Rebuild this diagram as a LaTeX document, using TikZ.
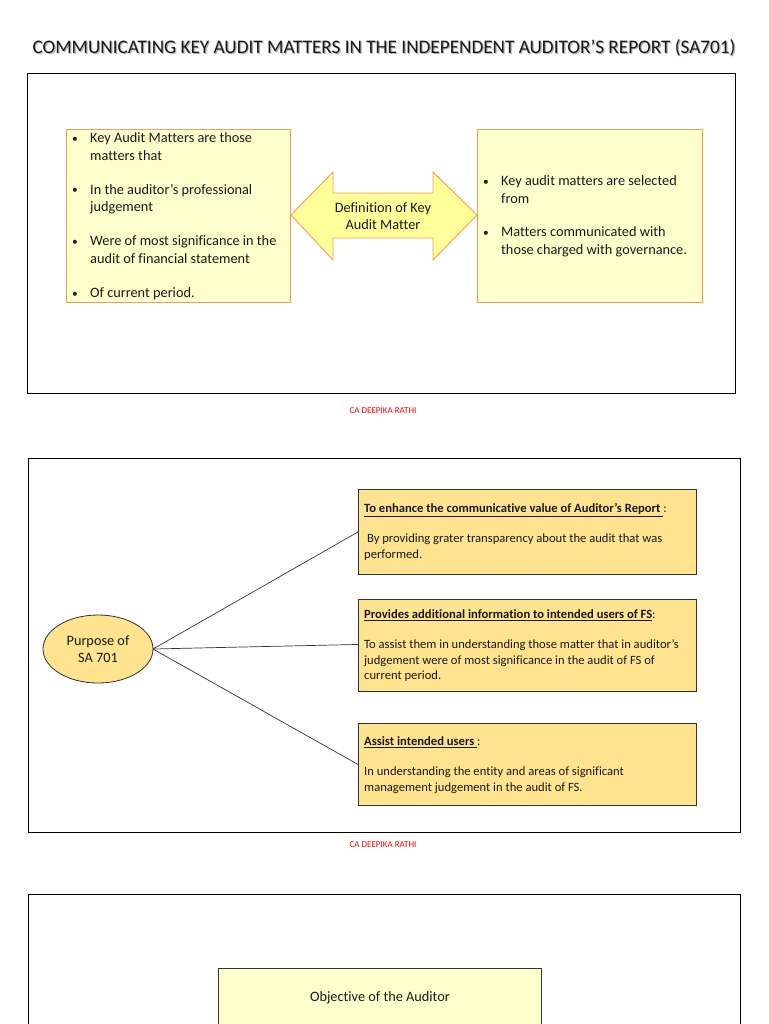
\documentclass[tikz,border=0pt]{standalone}
\usepackage{fontspec}
\usetikzlibrary{shapes.geometric}
\setmainfont{Carlito}[Ligatures=NoCommon]
\definecolor{txt}{HTML}{1A1A1A}
\definecolor{lyel}{HTML}{FFFFCC}
\definecolor{ayel}{HTML}{FFFF99}
\definecolor{obord}{HTML}{F79C5C}
\definecolor{gold}{HTML}{FFE38F}
\definecolor{dbord}{HTML}{333333}
\newcommand{\bul}{\llap{\raisebox{0.6pt}{\scalebox{0.8}{•}}\hspace{12.5pt}}}
\begin{document}
\begin{tikzpicture}[x=1pt,y=-1pt,
  panel/.style={draw=black,line width=0.8pt,fill=white},
  obox/.style={draw=obord,fill=lyel,line width=0.9pt},
  gbox/.style={draw=dbord,fill=gold,line width=0.9pt},
  ybox/.style={draw=dbord,fill=lyel,line width=0.9pt},
  tA/.style={text=txt,font=\fontsize{14.3}{17.5}\selectfont,align=left,inner sep=0pt,anchor=north west},
  tB/.style={text=txt,font=\fontsize{12.6}{15.7}\selectfont,align=left,inner sep=0pt,anchor=north west},
  tC/.style={text=txt,font=\fontsize{14.3}{17}\selectfont,align=center,inner sep=0pt},
  red/.style={text=red,font=\fontsize{9}{10}\selectfont,inner sep=0pt},
  link/.style={draw=dbord,line width=0.7pt}]
\useasboundingbox (0,0) rectangle (768,1024);
\fill[white] (0,0) rectangle (768,1024);
% title
\node[text=black!30,font=\fontsize{19.2}{22}\selectfont,inner sep=0pt] at (385.2,49.2) {COMMUNICATING KEY AUDIT MATTERS IN THE INDEPENDENT AUDITOR’S REPORT (SA701)};
\node[text=txt,font=\fontsize{19.2}{22}\selectfont,inner sep=0pt] (title) at (384,48) {COMMUNICATING KEY AUDIT MATTERS IN THE INDEPENDENT AUDITOR’S REPORT (SA701)};
% panel 1
\draw[panel] (27,73) rectangle (735,393);
\draw[obox] (66,129) rectangle (290,302);
\draw[obox] (477,129) rectangle (702,302);
\draw[draw=obord,fill=ayel,line width=0.9pt] (291,215) -- (333,172) -- (333,193) -- (433,193) -- (433,172) -- (477,215) -- (433,260) -- (433,238) -- (333,238) -- (333,260) -- cycle;
\node[tC] (defn) at (383,216.5) {Definition of Key\\Audit Matter};
\node[tA] (l1) at (90,132.8) {\bul Key Audit Matters are those\\matters that};
\node[tA] (l2) at (90,183.8) {\bul In the auditor’s professional\\judgement};
\node[tA] (l3) at (90,235.8) {\bul Were of most significance in the\\audit of financial statement};
\node[tA] (l4) at (90,287.8) {\bul Of current period.};
\node[tA] (r1) at (501,175.8) {\bul Key audit matters are selected\\from};
\node[tA] (r2) at (501,226.8) {\bul Matters communicated with\\those charged with governance.};
\node[red] (sig1) at (383,411) {CA DEEPIKA RATHI};
% panel 2
\draw[panel] (28,458) rectangle (740,832);
\node[gbox,minimum width=338pt,minimum height=85pt,anchor=north west] (b1) at (358,489) {};
\node[gbox,minimum width=338pt,minimum height=92pt,anchor=north west] (b2) at (358,599) {};
\node[gbox,minimum width=338pt,minimum height=82pt,anchor=north west] (b3) at (358,723) {};
\node[draw=dbord,fill=gold,line width=0.8pt,ellipse,minimum width=110pt,minimum height=68pt] (purp) at (98,649) {};
\node[tC] (purpt) at (98,649.5) {Purpose of\\SA 701};
\coordinate (pe) at (153,649);
\draw[link] (pe) -- (b1.west);
\draw[link] (pe) -- ([yshift=1pt]b2.west);
\draw[link] (pe) -- (b3.west);
\node[tB] (h1) at (364,503.5) {\underline{\textbf{To enhance the communicative value of Auditor’s Report\ }}:};
\node[tB] (p1) at (364,533.5) {\ By providing grater transparency about the audit that was\\performed.};
\node[tB] (h2) at (364,609.5) {\underline{\textbf{Provides additional information to intended users of FS}}:};
\node[tB] (p2) at (364,639.5) {To assist them in understanding those matter that in auditor’s\\judgement were of most significance in the audit of FS of\\current period.};
\node[tB] (h3) at (364,736.5) {\underline{\textbf{Assist intended users\ }}:};
\node[tB] (p3) at (364,766.5) {In understanding the entity and areas of significant\\management judgement in the audit of FS.};
\node[red] (sig2) at (383,845) {CA DEEPIKA RATHI};
% panel 3
\draw[panel] (28,894) rectangle (740,1030);
\draw[ybox] (218,968) rectangle (541,1030);
\node[tC] (obj) at (380,998) {Objective of the Auditor};
\end{tikzpicture}
\end{document}
